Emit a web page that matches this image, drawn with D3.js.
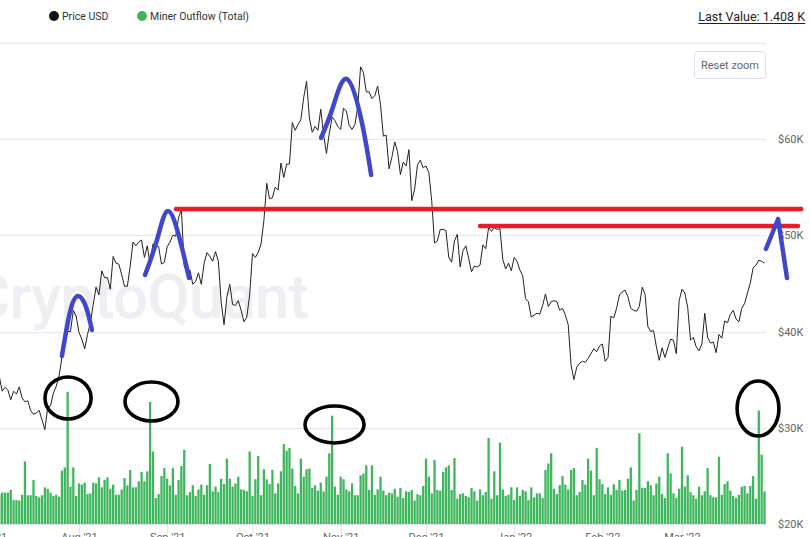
<!DOCTYPE html>
<html><head><meta charset="utf-8">
<script src="https://cdn.jsdelivr.net/npm/d3@7/dist/d3.min.js"></script>
<style>html,body{margin:0;padding:0;background:#fff;overflow:hidden}svg{display:block;font-family:Roboto,"Noto Sans",sans-serif}</style>
</head><body><svg id="c" width="810" height="537"></svg>
<script>
// ---------- DATA ----------
const startDate = "2021-07-04"; // first daily point
// BTC price (USD), daily, Jul 4 2021 -> Mar 30 2022
const priceUSD = [
 35300,33800,34200,33900,32900,33800,33500,34250,33100,32700,32800,31800,31400,31550,31800,30800,29800,32100,32300,33600,34300,35400,37300,39400,40000,40000,42200,41600,
 39900,39200,38200,39700,40900,42800,44600,43800,46300,45600,45600,44400,47800,47100,47000,45900,44700,44700,46800,49300,48900,49300,49500,47700,48900,47000,49100,48900,48800,47000,47200,
 48800,49300,50000,49900,51800,52700,46800,46100,46400,44900,45200,46100,44900,47100,48200,47800,47300,48300,47300,43000,40700,43600,44900,42800,42700,43200,42200,41000,41500,43800,
 48100,47700,48200,49100,51500,55400,53800,53900,55000,54700,57500,56000,57400,57400,61700,60900,61500,62000,64300,66000,62200,60700,61300,60900,63100,60400,58500,60600,62300,61900,61300,
 61000,63200,62900,61400,61000,61500,63300,67500,66900,64900,64900,64200,64500,65500,63600,60300,60400,56900,58100,59700,58700,56300,57600,57200,58900,53600,54800,57300,57800,57000,
 57200,56500,53600,49200,49400,50600,50600,50500,47700,47200,49400,50100,46700,48400,48900,47600,46200,46800,46700,46900,49000,48600,50800,50400,50800,50600,50700,47500,46500,47100,46300,
 47700,47300,46400,45800,43400,43100,41500,41700,41900,41800,42700,43900,42600,43100,43200,43100,42200,42400,41700,40700,36500,35000,36300,36700,36900,36800,37200,37700,38200,37900,38500,
 38700,36900,37300,41600,41400,42400,43800,44100,44300,43600,42400,42200,42100,42600,44600,43900,40500,40000,40100,38400,37000,38300,37300,38300,39200,39100,37700,43200,
 44400,44000,42500,39100,39400,38400,38000,38700,41900,39400,38800,38900,37800,39700,39300,41100,40900,41800,42200,41300,41000,42400,42900,44000,45000,46600,46900,47400,47300,47100
];
// Miner outflow (total), thousand BTC, same days
const outflowK = [
 1.29,1.36,1.35,1.35,1.47,1.03,1.03,1.01,1.26,2.70,1.24,1.24,1.90,1.21,1.15,1.24,1.58,1.52,1.35,1.21,1.26,1.18,2.30,2.44,5.70,1.61,2.44,1.21,1.75,1.70,
 1.78,1.29,1.32,1.78,1.75,2.01,1.58,1.90,2.01,1.52,1.70,1.26,1.26,1.49,1.98,1.67,2.33,1.58,1.58,1.84,2.24,1.84,2.27,5.26,3.13,1.12,1.29,2.07,2.41,1.95,
 1.67,2.41,1.26,1.90,2.50,3.19,1.24,1.38,1.67,1.21,1.49,1.70,1.26,1.67,2.59,1.41,1.61,1.38,1.95,1.72,2.82,1.95,1.61,1.75,2.04,1.49,1.47,1.41,3.13,1.21,
 1.93,2.93,1.24,2.36,1.93,1.72,2.33,1.32,1.75,2.27,3.45,3.16,3.28,2.39,1.64,1.32,2.82,2.04,2.36,2.39,1.55,1.67,1.44,1.78,1.41,2.04,3.05,4.67,1.61,1.26,
 2.04,1.93,1.49,1.41,1.75,1.24,1.24,2.10,2.18,2.53,1.47,2.53,1.26,1.49,2.04,1.44,1.24,1.35,1.32,1.52,1.18,1.55,1.12,1.41,1.38,1.47,1.01,1.29,1.24,1.64,
 2.82,2.04,1.32,2.76,1.47,1.44,2.24,2.44,2.53,1.47,2.84,1.09,1.29,1.32,1.21,1.15,1.55,1.41,1.01,1.49,1.24,1.38,3.71,1.09,2.27,1.24,3.51,1.49,1.21,1.26,
 1.58,1.03,1.58,1.21,1.47,1.41,1.03,1.58,1.15,1.32,1.32,1.12,2.33,2.61,3.05,1.52,1.29,1.67,2.07,1.70,1.49,2.33,2.41,1.24,1.38,1.90,1.70,2.82,2.30,1.24,
 3.28,1.93,1.72,1.29,1.58,1.26,1.72,1.47,1.90,1.44,1.47,1.95,2.44,1.01,1.47,3.91,1.55,1.55,1.84,1.67,1.24,1.75,2.04,1.29,1.12,3.05,2.18,1.32,1.12,1.52,
 3.33,1.61,2.10,1.38,1.24,1.09,1.61,1.24,1.41,2.41,1.24,1.15,1.15,2.90,1.26,1.72,1.84,1.44,1.21,1.12,1.26,1.61,1.64,1.32,1.64,2.07,1.09,4.89,2.99,1.408
];
const priceTicks = [20000, 30000, 40000, 50000, 60000, 70000];
const priceLabelTicks = [20000, 30000, 40000, 50000, 60000];
const monthTicks = ["2021-07-01","2021-08-01","2021-09-01","2021-10-01","2021-11-01","2021-12-01","2022-01-01","2022-02-01","2022-03-01"];
const legendItems = ["Price USD", "Miner Outflow (Total)"];
// hand-drawn annotations, in data space [date, price]
const blueArcs = [
 [["2021-07-26T00",37455],["2021-07-28T20",42027],["2021-07-31T15",43689],["2021-08-03T11",42546],["2021-08-05T13",40157]],
 [["2021-08-24T05",45871],["2021-08-28T10",49508],["2021-09-01T07",52520],["2021-09-05T12",49508],["2021-09-08T17",45559]],
 [["2021-10-25T02",60105],["2021-10-29T07",63326],["2021-11-03T05",66234],["2021-11-08T12",61663],["2021-11-11T17",56260]]
];
const blueCaret = [["2022-03-30T12",48572],["2022-04-03T19",51688],["2022-04-06T22",45559]];
const redLines = [
 [["2021-09-04T02",52729],["2022-04-11T22",52729]],
 [["2021-12-20T00",50962],["2022-04-10T19",50962]]
];
// ellipses: [dateFrom, dateTo, priceLow, priceHigh]
const rings = [
 ["2021-07-20T01","2021-08-05T06",30910,35273],
 ["2021-08-17T04","2021-09-04T19",30702,34754],
 ["2021-10-19T11","2021-11-09T05",28416,32260],
 ["2022-03-20T09","2022-04-04T02",29143,34858]
];

// ---------- CHART ----------
const W = 810, H = 537, plotR = 766, base = 524;
const svg = d3.select("#c");
const pDay = d3.utcParse("%Y-%m-%d"), pHour = d3.utcParse("%Y-%m-%dT%H");
const t0 = pDay(startDate);
const dates = priceUSD.map((_, i) => d3.utcDay.offset(t0, i));

const x = d3.scaleUtc().domain([pDay("2021-08-01"), pDay("2022-03-01")]).range([79, 682]);
const yP = d3.scaleLinear().domain([20000, 70000]).range([base, 42.75]);
const yO = d3.scaleLinear().domain([0, 6]).range([base, base - 139.2]);

svg.append("defs").append("clipPath").attr("id", "plot")
  .append("rect").attr("x", 0).attr("y", 0).attr("width", plotR).attr("height", base);

// gridlines
svg.append("g").selectAll("line").data(priceTicks).join("line")
  .attr("x1", 0).attr("x2", plotR).attr("y1", d => Math.round(yP(d)) + 0.5).attr("y2", d => Math.round(yP(d)) + 0.5)
  .attr("stroke", "#e6e6ea").attr("stroke-width", 1);

// watermark
svg.append("text").attr("x", 308).attr("y", 318).attr("text-anchor", "end")
  .attr("font-size", 62).attr("font-weight", 500).attr("fill", "#eeeef3").attr("letter-spacing", -1)
  .text("CryptoQuant");

// right axis labels
const ay = svg.append("g").attr("transform", `translate(${plotR},0)`)
  .call(d3.axisRight(yP).tickValues(priceLabelTicks).tickFormat(d => "$" + d / 1000 + "K").tickSize(0).tickPadding(12));
ay.select(".domain").remove();
ay.selectAll("text").attr("font-size", 11).attr("fill", "#666").attr("font-family", "Roboto");

// bottom axis
const ax = svg.append("g").attr("transform", `translate(0,${base})`)
  .call(d3.axisBottom(x).tickValues(monthTicks.map(pDay)).tickFormat(d3.utcFormat("%b '%y")).tickSize(10).tickPadding(-1));
ax.select(".domain").attr("stroke", "#e6e6ea").attr("d", `M0,0.5H${plotR}`);
ax.selectAll(".tick line").attr("stroke", "#dfe3ec");
ax.selectAll("text").attr("font-size", 11).attr("fill", "#666").attr("font-family", "Roboto");

// bars
const step = x(d3.utcDay.offset(t0, 1)) - x(t0);
const bw = step * 0.8;
const g = svg.append("g").attr("clip-path", "url(#plot)");
g.append("g").selectAll("rect").data(outflowK).join("rect")
  .attr("x", (d, i) => x(dates[i]) - bw / 2).attr("width", bw)
  .attr("y", d => yO(d)).attr("height", d => base - yO(d))
  .attr("fill", "#3db65c");

// price line
g.append("path").datum(priceUSD)
  .attr("fill", "none").attr("stroke", "#222").attr("stroke-width", 1).attr("stroke-linejoin", "round")
  .attr("d", d3.line().x((d, i) => x(dates[i])).y(d => yP(d)));

// annotations
const ann = svg.append("g");
ann.selectAll("ellipse").data(rings).join("ellipse")
  .attr("cx", d => (x(pHour(d[0])) + x(pHour(d[1]))) / 2)
  .attr("cy", d => (yP(d[2]) + yP(d[3])) / 2)
  .attr("rx", d => (x(pHour(d[1])) - x(pHour(d[0]))) / 2)
  .attr("ry", d => (yP(d[2]) - yP(d[3])) / 2)
  .attr("fill", "none").attr("stroke", "#000").attr("stroke-width", 3.6);

const lineH = d3.line().x(d => x(pHour(d[0]))).y(d => yP(d[1]));
ann.selectAll("path.red").data(redLines).join("path").attr("class", "red")
  .attr("d", lineH).attr("fill", "none").attr("stroke", "#ed1c24").attr("stroke-width", 4.5).attr("stroke-linecap", "round");
const arc = d3.line().x(d => x(pHour(d[0]))).y(d => yP(d[1])).curve(d3.curveNatural);
ann.selectAll("path.blue").data(blueArcs).join("path").attr("class", "blue")
  .attr("d", arc).attr("fill", "none").attr("stroke", "#3f48cc").attr("stroke-width", 4.5).attr("stroke-linecap", "round");
ann.append("path").datum(blueCaret).attr("d", lineH)
  .attr("fill", "none").attr("stroke", "#3f48cc").attr("stroke-width", 4.5).attr("stroke-linecap", "round").attr("stroke-linejoin", "round");

// legend
const legColors = ["#111", "#3db65c"];
const lg = svg.append("g");
let lx = 54;
legendItems.forEach((name, i) => {
  lg.append("circle").attr("cx", lx).attr("cy", 16).attr("r", 5).attr("fill", legColors[i]);
  const t = lg.append("text").attr("x", lx + 8).attr("y", 20).attr("font-size", 10.5).attr("fill", "#333").text(name);
  lx += 88;
});

// last value
const lv = svg.append("text").attr("x", 805).attr("y", 21).attr("text-anchor", "end")
  .attr("font-size", 12.5).attr("fill", "#222").text("Last Value: " + d3.format(".3f")(outflowK[outflowK.length - 1]) + " K");
const bb = lv.node().getBBox();
svg.append("line").attr("x1", bb.x).attr("x2", bb.x + bb.width).attr("y1", 23.5).attr("y2", 23.5).attr("stroke", "#222").attr("stroke-width", 1);

// reset zoom button
svg.append("rect").attr("x", 694.5).attr("y", 51.5).attr("width", 71).attr("height", 27).attr("rx", 3)
  .attr("fill", "#fff").attr("stroke", "#dcdff7");
svg.append("text").attr("x", 730).attr("y", 69).attr("text-anchor", "middle").attr("font-size", 11).attr("fill", "#666").text("Reset zoom");
</script></body></html>
